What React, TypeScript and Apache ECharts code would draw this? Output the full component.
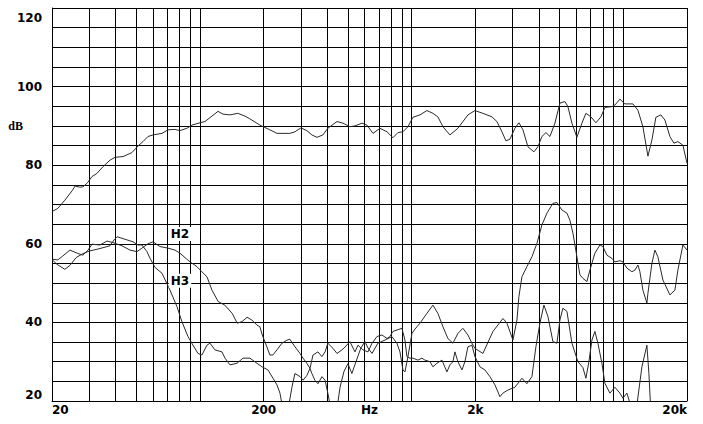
import React, { useEffect, useRef } from 'react';
import * as echarts from 'echarts';

// Frequencies (Hz) of the vertical grid lines
const gridFreqs = [20, 30, 40, 50, 60, 70, 80, 90, 100, 200, 300, 400, 500, 600, 700, 800, 900, 1000,
  2000, 3000, 4000, 5000, 6000, 7000, 8000, 9000, 10000, 20000];
// X tick labels
const xLabelFreqs = [20, 200, 632, 2000, 20000];
const xLabelTexts = ['20', '200', 'Hz', '2k', '20k'];
// Y labels
const yLabelValues = [20, 40, 60, 80, 100, 120];
const yUnitValue = 90;
const yUnitText = 'dB';

// Frequency response [Hz, dB]
const responseData: [number, number][] = [
  [20, 68.2], [21.3, 69.0], [23, 71.1], [24.9, 73.5], [25.7, 74.7], [27.1, 74.4], [28, 74.5], [29.3, 75.4],
  [30.9, 77.1], [32.6, 77.9], [34.8, 79.6], [37.6, 81.3], [39.7, 82.0], [43.3, 82.2], [47.7, 83.2], [51, 84.9],
  [53.8, 86.0], [56.8, 87.3], [60, 87.7], [66.2, 88.1], [70.6, 89.0], [76.2, 89.1], [80.5, 88.8], [86.8, 89.4],
  [91.7, 90.2], [100, 90.8], [105.6, 91.1], [114, 92.5], [121.7, 93.7], [128.5, 93.0], [138.6, 92.8], [151, 93.2],
  [163, 92.5], [172, 91.8], [192, 90.2], [214, 89.0], [231, 88.1], [266, 88.1], [281, 88.5], [300, 89.5],
  [320, 88.8], [338, 87.7], [357, 87.1], [381, 87.7], [402, 89.4], [444, 91.1], [474, 90.7], [511, 89.8],
  [540, 90.0], [583, 90.7], [615, 90.2], [657, 88.1], [709, 89.4], [765, 88.5], [816, 87.0], [862, 88.3],
  [910, 88.5], [961, 89.8], [1015, 92.2], [1095, 92.8], [1181, 93.9], [1261, 93.2], [1331, 92.3], [1406, 89.8],
  [1517, 87.7], [1655, 89.4], [1845, 92.8], [1991, 93.9], [2172, 93.2], [2396, 92.3], [2530, 91.1], [2671, 88.5],
  [2790, 86.2], [2914, 86.6], [3077, 89.4], [3213, 90.8], [3357, 89.0], [3544, 84.7], [3783, 83.4], [3951, 84.7],
  [4127, 87.3], [4311, 88.3], [4502, 87.3], [4754, 90.7], [5019, 95.8], [5300, 96.2], [5476, 94.9], [5720, 90.7],
  [6039, 87.1], [6377, 90.7], [6660, 93.2], [7033, 92.3], [7425, 90.8], [7840, 92.3], [8188, 94.7], [8837, 94.9],
  [9129, 95.3], [9639, 96.8], [10178, 95.6], [11104, 95.6], [11725, 94.0], [12380, 89.8], [13072, 82.3],
  [13653, 86.4], [14260, 92.2], [15057, 92.8], [15725, 91.5], [16604, 87.3], [17342, 85.6], [18115, 86.0],
  [19127, 85.1], [20000, 80.5],
];

// Second harmonic distortion [Hz, dB]
const h2Data: [number, number][] = [
  [20, 56.1], [21.3, 55.9], [22.5, 56.9], [24.3, 58.4], [26.3, 57.6], [28, 57.1], [29.6, 58.4], [30.9, 59.9],
  [33.7, 59.7], [36.4, 60.7], [38.8, 60.3], [42.8, 59.5], [46.7, 58.4], [50.4, 58.0], [53.2, 58.9], [56.8, 60.0],
  [60, 60.5], [64.7, 59.3], [70.6, 58.9], [76.2, 58.4], [80.5, 57.6], [89.7, 55.4], [96.8, 54.2], [102, 52.9],
  [108, 51.6], [114, 48.2], [122, 45.3], [131, 44.4], [142, 42.3], [150, 39.8], [158, 40.2], [167, 41.3],
  [176, 40.6], [186, 39.3], [192, 38.9], [197, 36.8], [207, 33.8], [214, 31.7], [221, 31.7], [231, 33.0],
  [244, 34.7], [258, 35.5], [266, 35.7], [281, 33.8], [297, 32.1], [307, 30.9], [320, 29.6], [331, 28.3],
  [338, 27.0], [349, 25.3], [361, 24.4], [377, 26.2], [390, 25.3], [402, 22.0], [425, 15], [444, 18],
  [459, 23.5], [479, 27.5], [500, 29.5], [522, 27.0], [546, 30.0], [576, 33.5], [602, 35.1], [622, 33.5],
  [650, 32.1], [693, 34.7], [748, 35.5], [807, 36.4], [852, 34.7], [881, 32.5], [910, 27.9], [930, 27.4],
  [961, 31.3], [1004, 37.2], [1037, 38.3], [1095, 39.8], [1181, 42.3], [1261, 44.4], [1331, 42.3], [1406, 38.9],
  [1484, 35.9], [1567, 34.7], [1655, 37.2], [1747, 38.5], [1845, 36.8], [1927, 34.7], [1991, 33.4], [2172, 32.1],
  [2422, 37.7], [2700, 41.0], [2820, 39.8], [3011, 35.5], [3145, 40.6], [3213, 46.6], [3320, 51.6], [3506, 54.2],
  [3702, 56.7], [3909, 60.1], [4127, 64.8], [4358, 67.8], [4652, 70.3], [4859, 70.5], [5130, 68.6], [5417, 67.8],
  [5596, 66.0], [5782, 62.7], [6039, 56.7], [6239, 52.1], [6446, 51.2], [6733, 50.4], [6956, 53.3], [7344, 57.6],
  [7755, 59.7], [8013, 59.3], [8369, 57.1], [8837, 56.3], [9129, 55.4], [9639, 55.7], [9959, 55.4], [10403, 53.8],
  [10984, 52.9], [11347, 53.3], [11725, 54.6], [11981, 52.9], [12380, 48.2], [12930, 44.9], [13072, 47.4],
  [13653, 55.0], [14104, 58.4], [14574, 56.7], [15388, 50.8], [16604, 47.0], [17532, 48.2], [18115, 53.3],
  [19127, 59.7], [20000, 58.4],
];

// Third harmonic distortion [Hz, dB]
const h3Data: [number, number][] = [
  [20, 56.0], [21.1, 54.8], [23, 53.5], [24.3, 54.5], [26, 56.5], [28, 57.5], [30.2, 58.2], [32.6, 58.6],
  [34.8, 59.0], [37.6, 59.5], [39.3, 61.0], [40.6, 61.8], [45.2, 61.0], [48.3, 60.5], [51, 59.7], [53.2, 59.7],
  [56.2, 58.0], [58.1, 56.3], [61.3, 54.0], [66.2, 52.5], [72.2, 48.2], [77.9, 44.0], [82.2, 40.2], [87.8, 36.4],
  [92.7, 34.2], [97.9, 32.1], [102.2, 31.7], [107.9, 34.2], [111.5, 34.7], [117.8, 33.0], [127.1, 32.5],
  [131.3, 30.9], [138.6, 29.2], [149.6, 29.6], [159.7, 30.9], [172.3, 30.9], [185.9, 29.6], [196.3, 28.7],
  [209.6, 27.9], [221.3, 25.8], [231.1, 24.1], [238.8, 22.0], [252, 15], [263, 19], [272, 23.5], [281, 27.0],
  [297, 26.2], [307, 25.3], [320, 26.5], [331, 28.3], [342, 31.7], [361, 32.5], [377, 31.3], [390, 32.5],
  [402, 34.7], [425, 33.4], [444, 32.1], [469, 33.0], [490, 34.0], [511, 35.1], [540, 32.5], [558, 34.2],
  [589, 33.0], [622, 32.5], [650, 34.7], [686, 36.4], [724, 36.8], [765, 35.9], [790, 36.4], [816, 37.7],
  [900, 38.5], [930, 35.5], [950, 31.3], [982, 30.9], [1015, 30.9], [1071, 30.4], [1119, 30.9], [1156, 30.4],
  [1221, 30.0], [1261, 28.7], [1317, 29.6], [1391, 30.4], [1468, 27.4], [1517, 29.2], [1567, 30.0], [1602, 32.5],
  [1655, 30.0], [1729, 27.9], [1786, 30.0], [1845, 33.8], [1927, 34.2], [1991, 31.3], [2103, 28.7], [2220, 27.9],
  [2344, 26.2], [2475, 24.1], [2613, 21.1], [2700, 22.0], [2851, 22.8], [3077, 23.5], [3320, 25.8], [3506, 24.4],
  [3702, 26.2], [3866, 33.8], [4038, 39.8], [4217, 44.4], [4406, 41.5], [4652, 35.1], [4859, 34.7], [5019, 40.6],
  [5186, 43.6], [5417, 42.8], [5720, 34.7], [6105, 30.0], [6446, 28.5], [6660, 25.8], [6880, 30.0], [7109, 35.5],
  [7344, 37.7], [7589, 34.7], [7926, 29.6], [8188, 24.5], [8646, 22.0], [9129, 23.5], [9639, 22.0], [9959, 20.7],
  [10403, 22.0], [10747, 19.5], [11104, 14], [11598, 19], [12246, 28.7], [12930, 34.2], [13213, 27], [13653, 12],
];

// Annotation anchors [Hz, dB]
const h2LabelAt: [number, number] = [80.5, 62.5];
const h3LabelAt: [number, number] = [80.5, 50.6];

const lg = (f: number) => Math.log10(f);
const toXY = (d: [number, number][]) => d.map(([f, v]) => [lg(f), v]);

const FONT = 'DejaVu Sans';
const CURVE = '#2a2a2a';

export default function App() {
  const ref = useRef<HTMLDivElement>(null);
  useEffect(() => {
    document.body.style.margin = '0';
    if (!ref.current) return;
    const chart = echarts.init(ref.current, undefined, { renderer: 'svg' });
    const labelPositions = xLabelFreqs.map(lg);
    const yMax = yLabelValues[yLabelValues.length - 1];
    const annotation = (text: string, at: [number, number]) => ({
      symbol: 'rect',
      symbolSize: 1,
      itemStyle: { color: 'rgba(0,0,0,0)' },
      silent: true,
      label: {
        show: true,
        position: 'inside',
        formatter: text,
        color: '#000',
        fontWeight: 'bold',
        fontSize: 12,
        fontFamily: FONT,
        backgroundColor: '#fff',
        padding: [1, 2, 1, 2],
      },
      data: [{ coord: [lg(at[0]), at[1]] }],
    });
    chart.setOption({
      animation: false,
      backgroundColor: '#fff',
      grid: { left: 52, right: 16, top: 8, bottom: 23 },
      xAxis: {
        type: 'value',
        min: lg(20),
        max: lg(20000),
        axisLine: { show: true, lineStyle: { color: '#000', width: 1 } },
        axisTick: { show: false, customValues: gridFreqs.map(lg) },
        splitLine: { show: true, lineStyle: { color: '#000', width: 1 } },
        axisLabel: {
          customValues: labelPositions,
          formatter: (v: number) => {
            const i = labelPositions.findIndex((p) => Math.abs(p - v) < 1e-6);
            return i >= 0 ? xLabelTexts[i] : '';
          },
          color: '#000',
          fontWeight: 'bold',
          fontSize: 12,
          fontFamily: FONT,
          margin: 3,
          alignMinLabel: 'left',
          alignMaxLabel: 'right',
        },
      },
      yAxis: {
        type: 'value',
        min: 20,
        max: 120,
        interval: 5,
        axisLine: { show: true, lineStyle: { color: '#000', width: 1 } },
        axisTick: { show: false },
        splitLine: { show: true, lineStyle: { color: '#000', width: 1 } },
        axisLabel: {
          formatter: (v: number) => {
            if (v === yMax) return '{top|' + v + '}';
            if (yLabelValues.includes(v)) return String(v);
            if (v === yUnitValue) return '{u|' + yUnitText + '}';
            return '';
          },
          color: '#000',
          fontWeight: 'bold',
          fontSize: 12,
          fontFamily: FONT,
          margin: 10,
          verticalAlignMinLabel: 'bottom',
          verticalAlignMaxLabel: 'top',
          rich: {
            u: {
              fontFamily: 'Liberation Serif',
              fontWeight: 'bold',
              fontSize: 12,
              color: '#000',
              padding: [0, 19, 0, 0],
            },
            top: {
              fontFamily: FONT,
              fontWeight: 'bold',
              fontSize: 12,
              color: '#000',
              padding: [4, 0, 0, 0],
            },
          },
        },
      },
      series: [
        {
          name: 'Response',
          type: 'line',
          data: toXY(responseData),
          showSymbol: false,
          symbol: 'none',
          lineStyle: { color: CURVE, width: 1 },
          silent: true,
        },
        {
          name: 'H2',
          type: 'line',
          data: toXY(h2Data),
          showSymbol: false,
          symbol: 'none',
          lineStyle: { color: CURVE, width: 1 },
          silent: true,
          markPoint: annotation('H2', h2LabelAt),
        },
        {
          name: 'H3',
          type: 'line',
          data: toXY(h3Data),
          showSymbol: false,
          symbol: 'none',
          lineStyle: { color: CURVE, width: 1 },
          silent: true,
          markPoint: annotation('H3', h3LabelAt),
        },
      ],
    });
    return () => chart.dispose();
  }, []);
  return <div ref={ref} style={{ width: 703, height: 424 }} />;
}
